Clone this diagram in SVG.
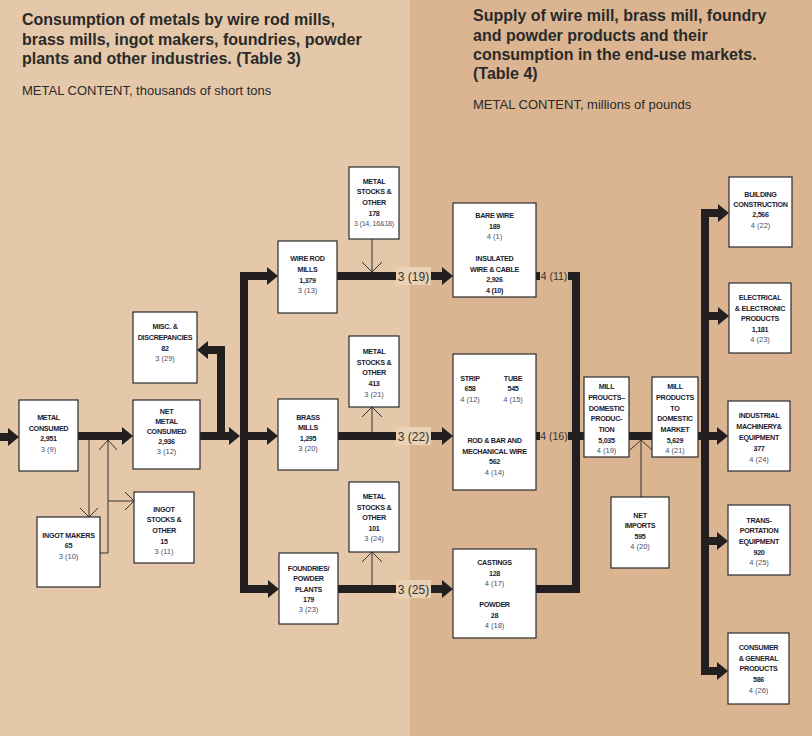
<svg xmlns="http://www.w3.org/2000/svg" width="812" height="736" viewBox="0 0 812 736">
<defs>
<style>
.bg1{fill:#E4C8A9}
.bg2{fill:#DBB591}
.title{font-family:"Liberation Sans",Arial,sans-serif;font-weight:bold;font-size:16px;fill:#2a2a2a}
.sub{font-family:"Liberation Sans",Arial,sans-serif;font-size:13px;fill:#2a2a2a}
.box{fill:#ffffff;stroke:#2a2a2a;stroke-width:1.2}
.b{font-family:"Liberation Sans",Arial,sans-serif;font-weight:bold;font-size:7.2px;letter-spacing:-0.3px;fill:#1c1c2e;text-anchor:middle}
.r{font-family:"Liberation Sans",Arial,sans-serif;font-size:7.5px;fill:#4b4b6b;text-anchor:middle}
.lab{font-family:"Liberation Sans",Arial,sans-serif;font-size:12px;fill:#333333;text-anchor:middle}
.lab2{font-family:"Liberation Sans",Arial,sans-serif;font-size:10.5px;fill:#333333;text-anchor:middle}
.thick{fill:none;stroke:#231F20;stroke-width:8;stroke-linecap:butt;stroke-linejoin:miter}
.thin{fill:none;stroke:#333333;stroke-width:1}
.labbg{fill:#E9D1B5}
</style>
<marker id="ah" markerUnits="userSpaceOnUse" markerWidth="12" markerHeight="18" refX="0" refY="9" orient="auto" overflow="visible">
<path d="M0,0 L11,9 L0,18 z" fill="#231F20"/>
</marker>
</defs>
<rect class="bg1" x="0" y="0" width="410" height="736"/>
<rect class="bg2" x="410" y="0" width="402" height="736"/>

<g id="titles">
<text class="title" x="22" y="25">Consumption of metals by wire rod mills,</text>
<text class="title" x="22" y="45">brass mills, ingot makers, foundries, powder</text>
<text class="title" x="22" y="64">plants and other industries. (Table 3)</text>
<text class="sub" x="22" y="95">METAL CONTENT, thousands of short tons</text>
<text class="title" x="473" y="21">Supply of wire mill, brass mill, foundry</text>
<text class="title" x="473" y="41">and powder products and their</text>
<text class="title" x="473" y="60">consumption in the end-use markets.</text>
<text class="title" x="473" y="79">(Table 4)</text>
<text class="sub" x="473" y="109">METAL CONTENT, millions of pounds</text>
</g>

<g id="connectors">
<path class="thick" d="M0,437 H8" marker-end="url(#ah)"/>
<path class="thick" d="M78,436 H122" marker-end="url(#ah)"/>
<path class="thick" d="M200,436 H229" marker-end="url(#ah)"/>
<path class="thick" d="M221,440 V346"/>
<path class="thick" d="M225,350 H208" marker-end="url(#ah)"/>
<path class="thick" d="M244,272 V593"/>
<path class="thick" d="M240,276 H267" marker-end="url(#ah)"/>
<path class="thick" d="M248,436 H267" marker-end="url(#ah)"/>
<path class="thick" d="M240,589 H268" marker-end="url(#ah)"/>
<path class="thin" d="M89,440 V517"/>
<path class="thin" d="M80,508 L89,517 L98,508"/>
<path class="thin" d="M100,553 H108 V440"/>
<path class="thin" d="M99,450 L108,440 L117,450"/>
<path class="thin" d="M108,501 H134"/>
<path class="thin" d="M125,492 L134,501 L125,510"/>
<path class="thick" d="M337,276 H396"/>
<path class="thick" d="M338,436 H396"/>
<path class="thick" d="M338,589 H396"/>
<rect class="labbg" x="396" y="267" width="35" height="18"/>
<rect class="labbg" x="396" y="427" width="35" height="18"/>
<rect class="labbg" x="396" y="580" width="35" height="18"/>
<text class="lab" x="413.5" y="280.5">3 (19)</text>
<text class="lab" x="413.5" y="440.5">3 (22)</text>
<text class="lab" x="413.5" y="593.5">3 (25)</text>
<path class="thick" d="M431,276 H442" marker-end="url(#ah)"/>
<path class="thick" d="M431,436 H442" marker-end="url(#ah)"/>
<path class="thick" d="M431,589 H442" marker-end="url(#ah)"/>
<path class="thin" d="M372,239 V272"/>
<path class="thin" d="M362,262 L372,272 L382,262"/>
<path class="thin" d="M372,432 V407"/>
<path class="thin" d="M362,417 L372,407 L382,417"/>
<path class="thin" d="M372,585 V552"/>
<path class="thin" d="M362,562 L372,552 L382,562"/>
<path class="thick" d="M536,276 H540"/>
<path class="thick" d="M568,276 H580"/>
<text class="lab2" x="554" y="280">4 (11)</text>
<path class="thick" d="M536,436 H540"/>
<path class="thick" d="M568,436 H584"/>
<text class="lab2" x="554" y="440">4 (16)</text>
<path class="thick" d="M536,589 H580"/>
<path class="thick" d="M576,272 V593"/>
<path class="thick" d="M629,436 H652"/>
<path class="thin" d="M641,497 V440"/>
<path class="thin" d="M630,450 L641,440 L652,450"/>
<path class="thick" d="M698,436 H705"/>
<path class="thick" d="M705,209 V675"/>
<path class="thick" d="M701,213 H718" marker-end="url(#ah)"/>
<path class="thick" d="M701,316 H718" marker-end="url(#ah)"/>
<path class="thick" d="M701,436 H717" marker-end="url(#ah)"/>
<path class="thick" d="M701,541 H717" marker-end="url(#ah)"/>
<path class="thick" d="M701,671 H717" marker-end="url(#ah)"/>
</g>

<g id="metal-consumed">
<rect class="box" x="19" y="400" width="59" height="71"/>
<text class="b" x="48.5" y="420">METAL</text>
<text class="b" x="48.5" y="431">CONSUMED</text>
<text class="b" x="48.5" y="441">2,951</text>
<text class="r" x="48.5" y="452">3 (9)</text>
</g>
<g id="misc">
<rect class="box" x="133" y="312" width="64" height="71"/>
<text class="b" x="165" y="329">MISC. &amp;</text>
<text class="b" x="165" y="340">DISCREPANCIES</text>
<text class="b" x="165" y="351">82</text>
<text class="r" x="165" y="361">3 (29)</text>
</g>
<g id="net-metal">
<rect class="box" x="133" y="400" width="67" height="69"/>
<text class="b" x="166.5" y="414">NET</text>
<text class="b" x="166.5" y="424">METAL</text>
<text class="b" x="166.5" y="434">CONSUMED</text>
<text class="b" x="166.5" y="444">2,936</text>
<text class="r" x="166.5" y="454">3 (12)</text>
</g>
<g id="ingot-makers">
<rect class="box" x="37" y="517" width="63" height="70"/>
<text class="b" x="68.5" y="538">INGOT MAKERS</text>
<text class="b" x="68.5" y="548">65</text>
<text class="r" x="68.5" y="559">3 (10)</text>
</g>
<g id="ingot-stocks">
<rect class="box" x="134" y="492" width="60" height="71"/>
<text class="b" x="164" y="512">INGOT</text>
<text class="b" x="164" y="522">STOCKS &amp;</text>
<text class="b" x="164" y="533">OTHER</text>
<text class="b" x="164" y="544">15</text>
<text class="r" x="164" y="554">3 (11)</text>
</g>
<g id="wire-rod">
<rect class="box" x="278" y="241" width="59" height="72"/>
<text class="b" x="307.5" y="261">WIRE ROD</text>
<text class="b" x="307.5" y="272">MILLS</text>
<text class="b" x="307.5" y="283">1,379</text>
<text class="r" x="307.5" y="293">3 (13)</text>
</g>
<g id="stocks-178">
<rect class="box" x="349" y="167" width="50" height="72"/>
<text class="b" x="374" y="184">METAL</text>
<text class="b" x="374" y="194">STOCKS &amp;</text>
<text class="b" x="374" y="205">OTHER</text>
<text class="b" x="374" y="216">178</text>
<text class="r" x="374" y="226" style="font-size:7px;letter-spacing:-0.2px">3 (14, 16&amp;18)</text>
</g>
<g id="brass">
<rect class="box" x="278" y="399" width="60" height="71"/>
<text class="b" x="308" y="420">BRASS</text>
<text class="b" x="308" y="430">MILLS</text>
<text class="b" x="308" y="441">1,295</text>
<text class="r" x="308" y="451">3 (20)</text>
</g>
<g id="stocks-413">
<rect class="box" x="349" y="336" width="50" height="71"/>
<text class="b" x="374" y="354">METAL</text>
<text class="b" x="374" y="365">STOCKS &amp;</text>
<text class="b" x="374" y="375">OTHER</text>
<text class="b" x="374" y="386">413</text>
<text class="r" x="374" y="397">3 (21)</text>
</g>
<g id="foundries">
<rect class="box" x="279" y="553" width="59" height="71"/>
<text class="b" x="308.5" y="571">FOUNDRIES/</text>
<text class="b" x="308.5" y="581">POWDER</text>
<text class="b" x="308.5" y="592">PLANTS</text>
<text class="b" x="308.5" y="602">179</text>
<text class="r" x="308.5" y="612">3 (23)</text>
</g>
<g id="stocks-101">
<rect class="box" x="349" y="482" width="50" height="70"/>
<text class="b" x="374" y="499">METAL</text>
<text class="b" x="374" y="510">STOCKS &amp;</text>
<text class="b" x="374" y="520">OTHER</text>
<text class="b" x="374" y="531">101</text>
<text class="r" x="374" y="541">3 (24)</text>
</g>
<g id="wire-products">
<rect class="box" x="453" y="203" width="83" height="94"/>
<text class="b" x="494.5" y="218">BARE WIRE</text>
<text class="b" x="494.5" y="229">189</text>
<text class="r" x="494.5" y="239">4 (1)</text>
<text class="b" x="494.5" y="261">INSULATED</text>
<text class="b" x="494.5" y="272">WIRE &amp; CABLE</text>
<text class="b" x="494.5" y="282">2,926</text>
<text class="b" x="494.5" y="293">4 (10)</text>
</g>
<g id="brass-products">
<rect class="box" x="453" y="354" width="83" height="136"/>
<text class="b" x="470" y="381">STRIP</text>
<text class="b" x="470" y="391">658</text>
<text class="r" x="470" y="402">4 (12)</text>
<text class="b" x="513" y="381">TUBE</text>
<text class="b" x="513" y="391">545</text>
<text class="r" x="513" y="402">4 (15)</text>
<text class="b" x="494.5" y="443">ROD &amp; BAR AND</text>
<text class="b" x="494.5" y="454">MECHANICAL WIRE</text>
<text class="b" x="494.5" y="464">562</text>
<text class="r" x="494.5" y="475">4 (14)</text>
</g>
<g id="foundry-products">
<rect class="box" x="453" y="549" width="83" height="89"/>
<text class="b" x="494.5" y="565">CASTINGS</text>
<text class="b" x="494.5" y="576">128</text>
<text class="r" x="494.5" y="586">4 (17)</text>
<text class="b" x="494.5" y="607">POWDER</text>
<text class="b" x="494.5" y="618">28</text>
<text class="r" x="494.5" y="628">4 (18)</text>
</g>
<g id="mill-domestic">
<rect class="box" x="584" y="377" width="45" height="80"/>
<text class="b" x="606.5" y="389">MILL</text>
<text class="b" x="606.5" y="400">PROUCTS–</text>
<text class="b" x="606.5" y="411">DOMESTIC</text>
<text class="b" x="606.5" y="421">PRODUC-</text>
<text class="b" x="606.5" y="432">TION</text>
<text class="b" x="606.5" y="443">5,035</text>
<text class="r" x="606.5" y="453">4 (19)</text>
</g>
<g id="mill-market">
<rect class="box" x="652" y="377" width="46" height="80"/>
<text class="b" x="675" y="389">MILL</text>
<text class="b" x="675" y="400">PRODUCTS</text>
<text class="b" x="675" y="411">TO</text>
<text class="b" x="675" y="421">DOMESTIC</text>
<text class="b" x="675" y="432">MARKET</text>
<text class="b" x="675" y="443">5,629</text>
<text class="r" x="675" y="453">4 (21)</text>
</g>
<g id="net-imports">
<rect class="box" x="611" y="497" width="58" height="71"/>
<text class="b" x="640" y="518">NET</text>
<text class="b" x="640" y="528">IMPORTS</text>
<text class="b" x="640" y="539">595</text>
<text class="r" x="640" y="549">4 (20)</text>
</g>
<g id="building">
<rect class="box" x="729" y="177" width="63" height="70"/>
<text class="b" x="760.5" y="197">BUILDING</text>
<text class="b" x="760.5" y="207">CONSTRUCTION</text>
<text class="b" x="760.5" y="217">2,566</text>
<text class="r" x="760.5" y="228">4 (22)</text>
</g>
<g id="electrical">
<rect class="box" x="729" y="283" width="62" height="70"/>
<text class="b" x="760" y="300">ELECTRICAL</text>
<text class="b" x="760" y="311">&amp; ELECTRONIC</text>
<text class="b" x="760" y="321">PRODUCTS</text>
<text class="b" x="760" y="332">1,181</text>
<text class="r" x="760" y="342">4 (23)</text>
</g>
<g id="industrial">
<rect class="box" x="728" y="401" width="62" height="70"/>
<text class="b" x="759" y="418">INDUSTRIAL</text>
<text class="b" x="759" y="429">MACHINERY&amp;</text>
<text class="b" x="759" y="440">EQUIPMENT</text>
<text class="b" x="759" y="451">377</text>
<text class="r" x="759" y="462">4 (24)</text>
</g>
<g id="transportation">
<rect class="box" x="728" y="505" width="62" height="70"/>
<text class="b" x="759" y="523">TRANS-</text>
<text class="b" x="759" y="533">PORTATION</text>
<text class="b" x="759" y="544">EQUIPMENT</text>
<text class="b" x="759" y="555">920</text>
<text class="r" x="759" y="565">4 (25)</text>
</g>
<g id="consumer">
<rect class="box" x="728" y="633" width="61" height="71"/>
<text class="b" x="758.5" y="650">CONSUMER</text>
<text class="b" x="758.5" y="661">&amp; GENERAL</text>
<text class="b" x="758.5" y="671">PRODUCTS</text>
<text class="b" x="758.5" y="682">586</text>
<text class="r" x="758.5" y="693">4 (26)</text>
</g>
</svg>
